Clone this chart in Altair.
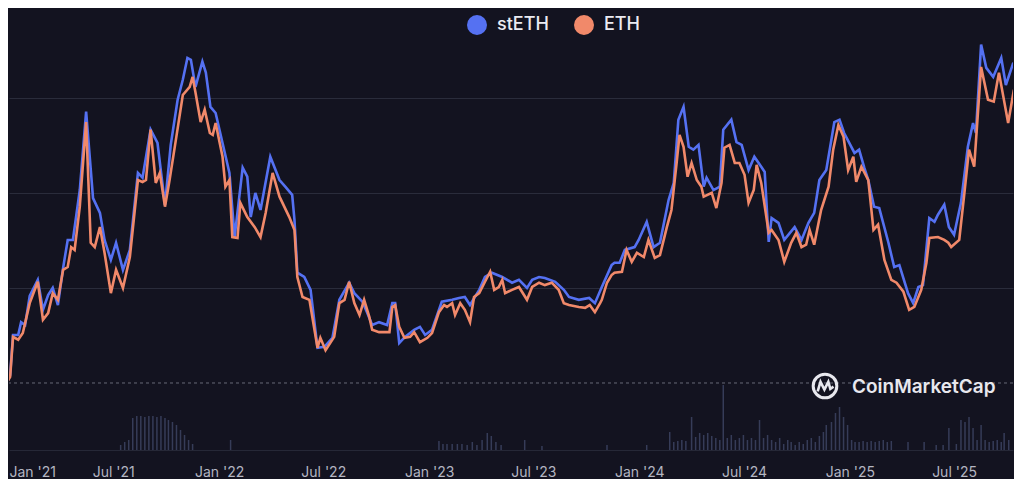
import altair as alt
import pandas as pd

# ---------------- data ----------------
START = "2021-01-01"  # day 0 of the day offsets below

eth_days = [-3, 2, 7, 16, 24, 36, 50, 59, 68, 76, 85, 94, 102, 108, 114, 123, 134, 142, 149, 158,
            166, 177, 186, 198, 210, 224, 232, 238, 246, 255, 262, 271, 279, 290, 302, 314, 319, 324,
            333, 340, 349, 354, 359, 371, 376, 383, 388, 397, 402, 414, 427, 437, 446, 458, 470, 487,
            496, 501, 510, 522, 527, 536, 541, 550, 565, 574, 583, 591, 600, 609, 617, 626, 631, 643,
            661, 666, 671, 678, 687, 697, 704, 714, 727, 735, 747, 756, 761, 770, 775, 784, 792, 801,
            808, 817, 827, 836, 843, 851, 857, 862, 874, 886, 900, 909, 921, 931, 943, 955, 964, 973,
            990, 1001, 1009, 1018, 1027, 1030, 1039, 1047, 1052, 1065, 1073, 1082, 1091, 1103, 1111,
            1122, 1131, 1143, 1151, 1160, 1165, 1172, 1179, 1186, 1195, 1203, 1207, 1221, 1229, 1238,
            1243, 1252, 1261, 1269, 1278, 1285, 1294, 1299, 1307, 1320, 1325, 1337, 1347, 1359, 1368,
            1377, 1385, 1391, 1399, 1411, 1424, 1432, 1441, 1450, 1458, 1467, 1472, 1481, 1493, 1502,
            1510, 1521, 1533, 1542, 1554, 1564, 1573, 1585, 1594, 1599, 1614, 1625, 1632, 1637, 1651,
            1660, 1668, 1677, 1689, 1701, 1711, 1720, 1736, 1746]
eth_vals = [0.02, 0.13, 0.97, 0.91, 1.05, 1.68, 2.13, 1.33, 1.47, 1.89, 1.75, 2.38, 2.44, 2.86, 2.80,
            3.71, 5.49, 2.95, 2.86, 3.28, 2.74, 1.89, 2.38, 2.00, 2.65, 4.27, 4.23, 4.27, 5.33, 4.21,
            4.42, 3.71, 4.27, 5.12, 6.06, 6.23, 6.44, 6.11, 5.49, 5.75, 5.26, 5.22, 5.47, 4.76, 4.13,
            4.27, 3.07, 3.05, 3.79, 3.49, 3.28, 3.07, 3.58, 4.42, 3.92, 3.49, 3.22, 2.23, 1.81, 1.75,
            1.39, 0.74, 0.95, 0.69, 0.97, 1.68, 1.75, 2.13, 1.68, 1.43, 1.75, 1.39, 1.12, 1.07, 1.07,
            1.60, 1.64, 1.18, 0.95, 0.97, 1.07, 0.86, 0.95, 1.05, 1.49, 1.64, 1.60, 1.68, 1.43, 1.68,
            1.54, 1.28, 1.81, 1.89, 2.13, 2.34, 1.96, 2.02, 2.17, 1.89, 1.96, 2.02, 1.75, 2.02, 2.11,
            2.06, 2.11, 1.96, 1.68, 1.64, 1.60, 1.58, 1.64, 1.49, 1.68, 1.75, 2.11, 2.27, 2.32, 2.34,
            2.80, 2.55, 2.74, 2.65, 3.01, 2.63, 2.69, 3.28, 3.64, 4.63, 5.22, 4.97, 4.34, 4.63, 4.27,
            4.13, 3.92, 4.00, 3.68, 4.21, 4.95, 5.01, 4.63, 4.63, 4.38, 3.79, 4.06, 4.59, 4.21, 3.16,
            3.22, 3.01, 2.55, 2.95, 3.16, 2.86, 2.91, 3.22, 2.91, 3.64, 4.13, 4.91, 5.43, 5.18, 4.48,
            4.76, 4.23, 4.55, 4.27, 3.22, 3.33, 2.59, 2.17, 2.11, 1.92, 1.54, 1.60, 1.96, 2.53, 3.05,
            3.07, 3.01, 2.95, 2.86, 3.01, 4.00, 4.91, 4.55, 6.65, 5.96, 5.92, 6.53, 5.47, 6.17]

steth_days = [-3, 2, 7, 16, 21, 28, 36, 50, 59, 68, 76, 85, 94, 102, 111, 123, 134, 146, 158, 166,
              177, 186, 198, 210, 224, 232, 246, 258, 271, 281, 293, 302, 310, 316, 324, 336, 342,
              350, 359, 371, 383, 392, 406, 414, 420, 428, 437, 454, 470, 480, 492, 496, 501, 513,
              524, 536, 548, 562, 574, 591, 600, 614, 622, 631, 643, 657, 666, 671, 678, 688, 704,
              714, 723, 735, 752, 770, 782, 792, 801, 817, 827, 839, 857, 874, 886, 900, 909, 921,
              931, 949, 964, 973, 990, 1008, 1018, 1030, 1047, 1052, 1061, 1070, 1087, 1094, 1108,
              1120, 1131, 1146, 1155, 1163, 1172, 1181, 1189, 1198, 1207, 1212, 1224, 1235, 1241,
              1255, 1264, 1273, 1285, 1295, 1307, 1313, 1320, 1325, 1337, 1347, 1365, 1377, 1389,
              1399, 1408, 1420, 1434, 1443, 1451, 1469, 1477, 1486, 1493, 1503, 1512, 1528, 1538,
              1547, 1562, 1571, 1580, 1588, 1599, 1608, 1614, 1625, 1633, 1642, 1654, 1666, 1675,
              1680, 1689, 1698, 1710, 1724, 1732, 1745]
steth_vals = [0.02, 0.17, 1.01, 1.01, 1.28, 1.22, 1.83, 2.17, 1.54, 1.85, 2.00, 1.64, 2.42, 3.01,
              3.01, 4.06, 5.71, 3.89, 3.58, 3.01, 2.59, 2.95, 2.38, 2.80, 4.42, 4.32, 5.33, 5.05,
              3.75, 5.01, 5.96, 6.38, 6.84, 6.80, 6.23, 6.76, 6.53, 5.81, 5.68, 5.05, 4.42, 3.07,
              4.53, 4.34, 3.49, 4.00, 3.64, 4.76, 4.27, 4.13, 3.96, 3.43, 2.32, 2.23, 1.96, 0.74,
              0.76, 0.95, 1.75, 2.11, 1.89, 1.71, 1.49, 1.22, 1.28, 1.22, 1.68, 1.68, 0.84, 0.97,
              1.12, 1.18, 1.01, 1.12, 1.71, 1.75, 1.79, 1.81, 1.64, 1.96, 2.23, 2.32, 2.23, 2.11,
              2.17, 2.00, 2.17, 2.23, 2.21, 2.13, 1.96, 1.81, 1.75, 1.79, 1.68, 2.02, 2.48, 2.53,
              2.53, 2.80, 2.86, 3.01, 3.39, 2.86, 2.95, 3.85, 4.21, 5.54, 5.81, 4.97, 4.91, 5.01,
              4.13, 4.32, 4.06, 4.13, 5.33, 5.54, 5.07, 5.01, 4.48, 4.76, 4.55, 4.44, 2.97, 3.47,
              3.37, 3.01, 3.28, 3.01, 3.37, 3.58, 4.27, 4.48, 5.49, 5.54, 5.26, 4.84, 4.91, 4.53,
              4.27, 3.71, 3.68, 2.95, 2.44, 2.48, 1.89, 1.68, 2.02, 2.06, 3.47, 3.39, 3.54, 3.75,
              3.28, 3.12, 3.79, 4.97, 5.47, 5.26, 7.12, 6.63, 6.44, 6.84, 6.27, 6.74]

vol_days = [194, 201, 208, 215, 222, 229, 236, 243, 250, 257, 264, 271, 277, 284, 291, 298, 305, 312,
            319, 385, 747, 754, 761, 770, 779, 787, 796, 805, 813, 822, 831, 838, 846, 855, 896, 926,
            1039, 1108, 1148, 1155, 1162, 1169, 1176, 1186, 1193, 1200, 1207, 1214, 1221, 1228, 1235,
            1241, 1248, 1255, 1262, 1269, 1276, 1283, 1290, 1297, 1304, 1311, 1318, 1325, 1332, 1339,
            1346, 1353, 1359, 1366, 1373, 1380, 1387, 1394, 1401, 1408, 1415, 1420, 1429, 1436, 1443,
            1450, 1457, 1464, 1470, 1477, 1484, 1491, 1498, 1505, 1512, 1519, 1526, 1533, 1562, 1590,
            1611, 1623, 1633, 1646, 1654, 1661, 1668, 1675, 1682, 1689, 1696, 1703, 1710, 1717, 1724,
            1729, 1737]
vol_vals = [5, 8, 10, 32, 34, 34, 33, 34, 34, 33, 34, 32, 30, 28, 25, 20, 15, 10, 6, 10, 9, 6, 6, 6,
            6, 6, 5, 8, 5, 10, 17, 14, 8, 5, 10, 4, 5, 5, 18, 8, 9, 10, 9, 33, 13, 17, 15, 17, 14, 12,
            10, 65, 12, 15, 10, 12, 15, 10, 12, 10, 30, 12, 15, 10, 8, 12, 6, 10, 8, 5, 8, 6, 10, 12,
            8, 14, 18, 25, 28, 37, 43, 33, 25, 10, 8, 8, 9, 8, 9, 8, 9, 10, 8, 9, 8, 8, 5, 5, 22, 6,
            30, 28, 33, 22, 10, 25, 10, 8, 9, 10, 8, 17, 10]

grid_values = [2, 4, 6]
zero_values = [0]
tick_months = [(2021, 1), (2021, 7), (2022, 1), (2022, 7), (2023, 1), (2023, 7),
               (2024, 1), (2024, 7), (2025, 1), (2025, 7)]
series_names = ["stETH", "ETH"]
series_colors = ["#5571f2", "#f1896a"]
watermark_text = ["CoinMarketCap"]

# ---------------- styling ----------------
BG = "#131320"
GRID = "#2a2c3b"
FONT = "Inter"

base = pd.Timestamp(START)


def to_dates(days):
    return base + pd.to_timedelta(days, unit="D")


lines_df = pd.concat([
    pd.DataFrame({"date": to_dates(steth_days), "value": steth_vals, "series": "stETH"}),
    pd.DataFrame({"date": to_dates(eth_days), "value": eth_vals, "series": "ETH"}),
], ignore_index=True)
vol_df = pd.DataFrame({"date": to_dates(vol_days), "volume": vol_vals})
zero_df = pd.DataFrame({"value": zero_values})
wm_df = pd.DataFrame({"label": watermark_text})

x_scale = alt.Scale(domain=[alt.DateTime(year=2021, month=1, date=1),
                            alt.DateTime(year=2025, month=10, date=11, hours=10)], padding=0)
x_axis = alt.Axis(values=[alt.DateTime(year=y, month=m, date=1) for y, m in tick_months],
                  format="%b '%y", title=None, ticks=False, grid=False,
                  domainColor="#262837", labelColor="#b4b6c2", labelFont=FONT,
                  labelFontSize=14, labelPadding=15, labelFlush=12)
x_enc = alt.X("date:T", scale=x_scale, axis=x_axis)

y_scale = alt.Scale(domain=[-1.41, 7.89], nice=False, zero=False)
y_axis = alt.Axis(values=grid_values, grid=True, gridColor=GRID, gridWidth=1,
                  labels=False, ticks=False, domain=False, title=None)

color_enc = alt.Color(
    "series:N",
    scale=alt.Scale(domain=series_names, range=series_colors),
    legend=alt.Legend(orient="none", legendX=458, legendY=7, direction="horizontal",
                      title=None, symbolType="circle", symbolSize=100, symbolStrokeWidth=10,
                      labelFontSize=18, labelFont=FONT, labelFontWeight=500,
                      labelColor="#ebebf2", labelOffset=10, columnPadding=10, padding=0),
)

zero_rule = alt.Chart(zero_df).mark_rule(color="#686a78", strokeDash=[3, 3], strokeWidth=1).encode(
    y=alt.Y("value:Q", scale=y_scale, axis=y_axis)
)

steth_line = alt.Chart(lines_df).transform_filter(alt.datum.series == "stETH").mark_line(
    strokeWidth=2.6, clip=True).encode(
    x=x_enc, y=alt.Y("value:Q", scale=y_scale, axis=y_axis), color=color_enc)

eth_line = alt.Chart(lines_df).transform_filter(alt.datum.series == "ETH").mark_line(
    strokeWidth=2.6, clip=True).encode(
    x=x_enc, y=alt.Y("value:Q", scale=y_scale, axis=y_axis), color=color_enc)

logo_ring = alt.Chart(wm_df).mark_point(shape="circle", filled=False, size=560, strokeWidth=3,
                                        color="#e8e8ee", opacity=1).encode(
    x=alt.value(816), y=alt.value(378))
logo_m = alt.Chart(wm_df).mark_point(
    shape="M -0.62 0.45 L -0.38 -0.35 L -0.05 0.3 L 0.28 -0.35 L 0.45 0.25 L 0.72 0.05",
    filled=False, size=560, strokeWidth=2.6, color="#e8e8ee", opacity=1).encode(
    x=alt.value(816), y=alt.value(378))
wm_text = alt.Chart(wm_df).mark_text(align="left", baseline="middle", font=FONT, fontSize=19,
                                     fontWeight=600, color="#e8e8ee").encode(
    x=alt.value(843), y=alt.value(379), text="label:N")

main = alt.layer(zero_rule, steth_line, eth_line, logo_ring, logo_m, wm_text)

vol_layer = alt.Chart(vol_df).mark_bar(width=1.5, color="#363c58", clip=True).encode(
    x=x_enc,
    y=alt.Y("volume:Q", scale=alt.Scale(domain=[0, 442], nice=False), axis=None),
)

chart = alt.layer(vol_layer, main).resolve_scale(y="independent").properties(
    width=1004, height=442, padding=0, background=BG
).configure_view(strokeWidth=0)

chart.save("out.html", embed_options={"renderer": "svg", "actions": False})
